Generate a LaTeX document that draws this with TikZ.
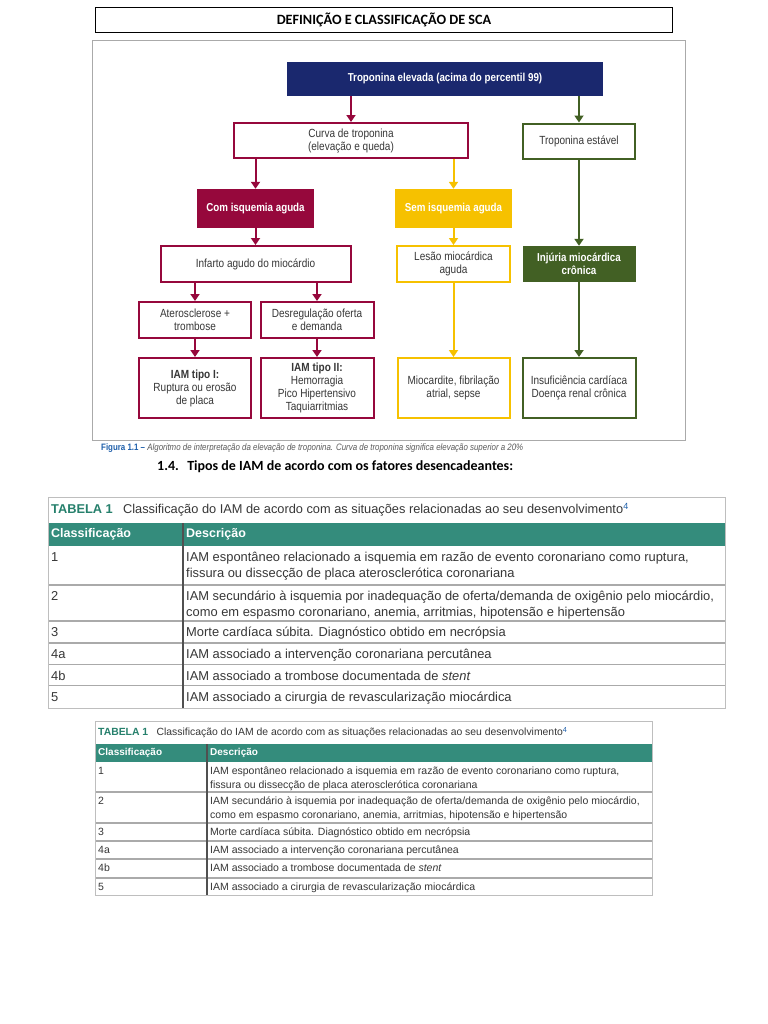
\documentclass[tikz,border=0pt]{standalone}
\usepackage{fontspec}
\setmainfont{Liberation Sans}
\newfontfamily\carl{Carlito}
\newfontfamily\condf[FakeStretch=0.85]{Liberation Sans}
\usetikzlibrary{arrows.meta,calc}
\definecolor{crim}{RGB}{150,8,60}
\definecolor{navy}{RGB}{26,40,110}
\definecolor{yel}{RGB}{246,193,0}
\definecolor{grn}{RGB}{66,96,36}
\definecolor{teal1}{RGB}{52,140,124}
\definecolor{tealtxt}{RGB}{38,128,108}
\definecolor{txt}{RGB}{55,55,55}
\definecolor{capblue}{RGB}{30,95,170}
\tikzset{
  fc/.style={inner sep=1bp, align=center, text=txt, font=\condf\fontsize{11.8bp}{13bp}\selectfont},
  outbox/.style={fc, draw=#1, line width=2bp, fill=white},
  solidbox/.style={fc, fill=#1, text=white, font=\condf\bfseries\fontsize{11.5bp}{13bp}\selectfont},
  flowarr/.style={draw=#1, line width=2bp, -{Triangle[width=9bp,length=7bp]}},
  rowline/.style={draw={rgb,255:red,170;green,170;blue,170}, line width=1.5bp},
  frameline/.style={draw={rgb,255:red,190;green,190;blue,190}, line width=1bp},
  divline/.style={draw={rgb,255:red,80;green,80;blue,80}, line width=1.5bp},
  big-title/.style={inner sep=0pt, xshift=3bp, text=txt, font=\fontsize{12.8bp}{14bp}\selectfont},
  big-head/.style={inner sep=0pt, xshift=3bp, text=white, font=\bfseries\fontsize{12.5bp}{14bp}\selectfont},
  big-body/.style={inner sep=0pt, xshift=3bp, yshift=-4.5bp, anchor=north west, align=left, text=txt, font=\fontsize{12.9bp}{16bp}\selectfont},
  small-title/.style={inner sep=0pt, xshift=3bp, text=txt, font=\fontsize{10.4bp}{12bp}\selectfont},
  small-head/.style={inner sep=0pt, xshift=3bp, text=white, font=\bfseries\fontsize{10bp}{12bp}\selectfont},
  small-body/.style={inner sep=0pt, xshift=3bp, yshift=-3bp, anchor=north west, align=left, text=txt, font=\fontsize{10.5bp}{13.5bp}\selectfont},
}
\newcommand\mktable[5]{%
  \coordinate (#1-D) at (#3,0);
  \coordinate (#1-R) at (#4,0);
  \foreach \yy [count=\i] in {#5} {\coordinate (#1-y\i) at (#2,\yy);}
  \fill[teal1] (#1-y2) rectangle (#1-y3 -| #1-R);
  \foreach \k in {4,...,8} {\draw[rowline] (#1-y\k) -- (#1-y\k -| #1-R);}
  \draw[frameline] (#1-y1) rectangle (#1-y9 -| #1-R);
  \draw[divline] (#1-y2 -| #1-D) -- (#1-y9 -| #1-D);
  \node[#1-title, anchor=west] (#1-cap) at ($(#1-y1)!0.5!(#1-y2)$) {\textcolor{tealtxt}{\bfseries TABELA 1}\hspace{0.8em}Classificação do IAM de acordo com as situações relacionadas ao seu desenvolvimento\textsuperscript{\color{capblue}4}};
  \node[#1-head, anchor=west] (#1-h1) at ($(#1-y2)!0.5!(#1-y3)$) {Classificação};
  \node[#1-head, anchor=west] (#1-h2) at ($(#1-y2 -| #1-D)!0.5!(#1-y3 -| #1-D)$) {Descrição};
  \node[#1-body] (#1-c1) at (#1-y3) {\strut 1};
  \node[#1-body] (#1-d1) at (#1-y3 -| #1-D) {\strut IAM espontâneo relacionado a isquemia em razão de evento coronariano como ruptura,\\fissura ou dissecção de placa aterosclerótica coronariana};
  \node[#1-body] (#1-c2) at (#1-y4) {\strut 2};
  \node[#1-body] (#1-d2) at (#1-y4 -| #1-D) {\strut IAM secundário à isquemia por inadequação de oferta/demanda de oxigênio pelo miocárdio,\\como em espasmo coronariano, anemia, arritmias, hipotensão e hipertensão};
  \node[#1-body] (#1-c3) at (#1-y5) {\strut 3};
  \node[#1-body] (#1-d3) at (#1-y5 -| #1-D) {\strut Morte cardíaca súbita. Diagnóstico obtido em necrópsia};
  \node[#1-body] (#1-c4) at (#1-y6) {\strut 4a};
  \node[#1-body] (#1-d4) at (#1-y6 -| #1-D) {\strut IAM associado a intervenção coronariana percutânea};
  \node[#1-body] (#1-c5) at (#1-y7) {\strut 4b};
  \node[#1-body] (#1-d5) at (#1-y7 -| #1-D) {\strut IAM associado a trombose documentada de \textit{stent}};
  \node[#1-body] (#1-c6) at (#1-y8) {\strut 5};
  \node[#1-body] (#1-d6) at (#1-y8 -| #1-D) {\strut IAM associado a cirurgia de revascularização miocárdica};
}
\begin{document}
\begin{tikzpicture}[x=1bp,y=-1bp]
\useasboundingbox[fill=white] (0,0) rectangle (768,1024);
% title
\node[draw=black, line width=1bp, minimum width=576bp, minimum height=25bp, inner sep=0pt,
      font=\carl\bfseries\fontsize{14.2bp}{16bp}\selectfont] (title) at (384,19.7) {DEFINIÇÃO E CLASSIFICAÇÃO DE SCA};
% figure frame
\draw[draw={rgb,255:red,170;green,170;blue,170}, line width=1bp] (92,40) rectangle (685,440);
% flowchart
\node[solidbox=navy, minimum width=316bp, minimum height=34bp] (top) at (445,79) {Troponina elevada (acima do percentil 99)};
\node[outbox=crim, minimum width=234bp, minimum height=35bp] (curva) at (351,140.5) {Curva de troponina\\(elevação e queda)};
\node[outbox=grn, minimum width=112bp, minimum height=35bp] (estavel) at (579,141) {Troponina estável};
\node[solidbox=crim, minimum width=117bp, minimum height=39bp] (com) at (255.5,208.5) {Com isquemia aguda};
\node[solidbox=yel, minimum width=117bp, minimum height=39bp] (sem) at (453.5,208.5) {Sem isquemia aguda};
\node[outbox=crim, minimum width=190bp, minimum height=36bp] (infarto) at (255.5,264) {Infarto agudo do miocárdio};
\node[outbox=yel, minimum width=113bp, minimum height=36bp] (lesao) at (453.5,264) {Lesão miocárdica\\aguda};
\node[solidbox=grn, minimum width=113bp, minimum height=36bp] (injuria) at (579,264) {Injúria miocárdica\\crônica};
\node[outbox=crim, minimum width=112bp, minimum height=36bp] (ater) at (195,320) {Aterosclerose +\\trombose};
\node[outbox=crim, minimum width=113bp, minimum height=36bp] (desreg) at (317,320) {Desregulação oferta\\e demanda};
\node[outbox=crim, minimum width=112bp, minimum height=60bp] (iam1) at (195,388) {\textbf{IAM tipo I:}\\Ruptura ou erosão\\de placa};
\node[outbox=crim, minimum width=113bp, minimum height=60bp] (iam2) at (317,388) {\textbf{IAM tipo II:}\\Hemorragia\\Pico Hipertensivo\\Taquiarritmias};
\node[outbox=yel, minimum width=112bp, minimum height=60bp] (mioc) at (453.5,388) {Miocardite, fibrilação\\atrial, sepse};
\node[outbox=grn, minimum width=113bp, minimum height=60bp] (insuf) at (579,388) {Insuficiência cardíaca\\Doença renal crônica};
% arrows
\draw[flowarr=crim] (top.south -| curva.north) -- (curva.north);
\draw[flowarr=grn] (top.south -| estavel.north) -- (estavel.north);
\draw[flowarr=crim] (curva.south -| com.north) -- (com.north);
\draw[flowarr=yel] (curva.south -| sem.north) -- (sem.north);
\draw[flowarr=crim] (com.south) -- (infarto.north);
\draw[flowarr=yel] (sem.south) -- (lesao.north);
\draw[flowarr=grn] (estavel.south) -- (injuria.north);
\draw[flowarr=crim] (infarto.south -| ater.north) -- (ater.north);
\draw[flowarr=crim] (infarto.south -| desreg.north) -- (desreg.north);
\draw[flowarr=crim] (ater.south) -- (iam1.north);
\draw[flowarr=crim] (desreg.south) -- (iam2.north);
\draw[flowarr=yel] (lesao.south) -- (mioc.north);
\draw[flowarr=grn] (injuria.south) -- (insuf.north);
% caption
\node[anchor=west, inner sep=0pt, text={rgb,255:red,90;green,90;blue,90}, font=\condf\fontsize{9.3bp}{11bp}\selectfont] (caption) at (101,448)
  {\textcolor{capblue}{\bfseries Figura 1.1 –} \itshape Algoritmo de interpretação da elevação de troponina. Curva de troponina significa elevação superior a 20\%};
% heading
\node[anchor=west, inner sep=0pt, font=\carl\bfseries\fontsize{14bp}{16bp}\selectfont] (heading) at (157,467)
  {1.4.\hspace{0.6em}Tipos de IAM de acordo com os fatores desencadeantes:};
% tables
\mktable{big}{48}{183}{725}{497,523,546,585,621,643,664.5,685.5,708}
\mktable{small}{95}{207}{652}{721,744,762,792,823,841,859,878,895}
\end{tikzpicture}
\end{document}
